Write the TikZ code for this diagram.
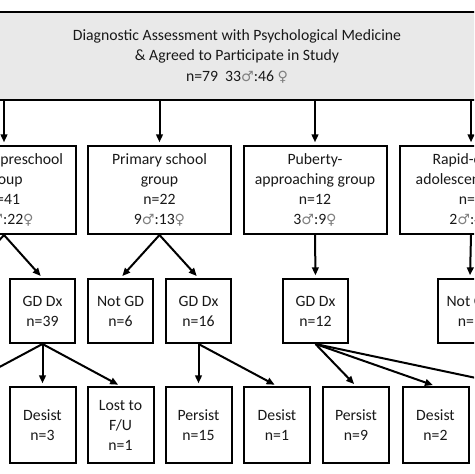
\documentclass[tikz,border=0pt]{standalone}
\usepackage{fontspec}
\setmainfont{Carlito}
\newfontfamily\symfont[Scale=0.9]{DejaVu Sans}
\usetikzlibrary{arrows.meta}
\newcommand{\msym}{{\symfont\color{black!50}\char"2642}}
\newcommand{\fsym}{{\symfont\color{black!50}\char"2640}}
\begin{document}
\begin{tikzpicture}[x=0.75pt,y=-0.75pt,
  box/.style={draw=black,line width=1.5pt,fill=white,align=center,inner sep=0pt,
    text=black!90,font=\fontsize{11.8}{15}\selectfont},
  grp/.style={box,minimum width=107.25pt,minimum height=66pt},
  dxbox/.style={box,minimum width=48.75pt,minimum height=48pt},
  outbox/.style={box,minimum width=49.5pt,minimum height=57pt},
  arr/.style={line width=1.5pt,-{Triangle[length=6pt,width=5pt]},shorten >=2pt}]
\useasboundingbox (0,0) rectangle (474,474);
\fill[white] (0,0) rectangle (474,474);
\clip (0,0) rectangle (474,474);
% top
\node[box,fill=gray!17,minimum width=385.5pt,minimum height=66pt,
  font=\fontsize{11.8}{15.4}\selectfont] (top) at (237,56)
  {Diagnostic Assessment with Psychological Medicine\\
   \& Agreed to Participate in Study\\
   n=79\ \ 33\msym:46 \fsym};
% groups
\node[grp] (g1) at (4,190) {Younger preschool\\group\\n=41\\19\msym:22\fsym};
\node[grp] (g2) at (159.5,190) {Primary school\\group\\n=22\\9\msym:13\fsym};
\node[grp] (g3) at (315,190) {Puberty-\\approaching group\\n=12\\3\msym:9\fsym};
\node[grp] (g4) at (471,190) {Rapid-onset\\adolescent group\\n=6\\2\msym:4\fsym};
% diagnosis
\node[dxbox] (d0) at (-35,311) {Not GD\\n=2};
\node[dxbox] (d1) at (42.5,311) {GD Dx\\n=39};
\node[dxbox] (d2) at (120.5,311) {Not GD\\n=6};
\node[dxbox] (d3) at (198.5,311) {GD Dx\\n=16};
\node[dxbox] (d4) at (315.5,311) {GD Dx\\n=12};
\node[dxbox] (d5) at (470,311) {Not GD\\n=1};
% outcomes
\node[outbox] (o0) at (-36,425) {Persist\\n=35};
\node[outbox] (o1) at (42.5,425) {Desist\\n=3};
\node[outbox] (o2) at (120.5,425) {Lost to\\F/U\\n=1};
\node[outbox] (o3) at (198.5,425) {Persist\\n=15};
\node[outbox] (o4) at (277,425) {Desist\\n=1};
\node[outbox] (o5) at (356,425) {Persist\\n=9};
\node[outbox] (o6) at (435.5,425) {Desist\\n=2};
\node[outbox] (o7) at (514,425) {Lost to\\F/U\\n=1};
% arrows
\foreach \g in {g1,g2,g3,g4} \draw[arr] (top.south -| \g) -- (\g.north);
\draw[arr] (g1.south) -- (d0.north);
\draw[arr] (g1.south) -- (d1.north);
\draw[arr] (g2.south) -- (d2.north);
\draw[arr] (g2.south) -- (d3.north);
\draw[arr] (g3.south) -- (d4.north);
\draw[arr] (g4.south) -- (d5.north);
\draw[arr] (d1.south) -- (o0.north);
\draw[arr] (d1.south) -- (o1.north);
\draw[arr] (d1.south) -- (o2.north);
\draw[arr] (d3.south) -- (o3.north);
\draw[arr] (d3.south) -- (o4.north);
\draw[arr] (d4.south) -- (o5.north);
\draw[arr] (d4.south) -- (o6.north);
\draw[arr] (d4.south) -- (o7.north);
\end{tikzpicture}
\end{document}
